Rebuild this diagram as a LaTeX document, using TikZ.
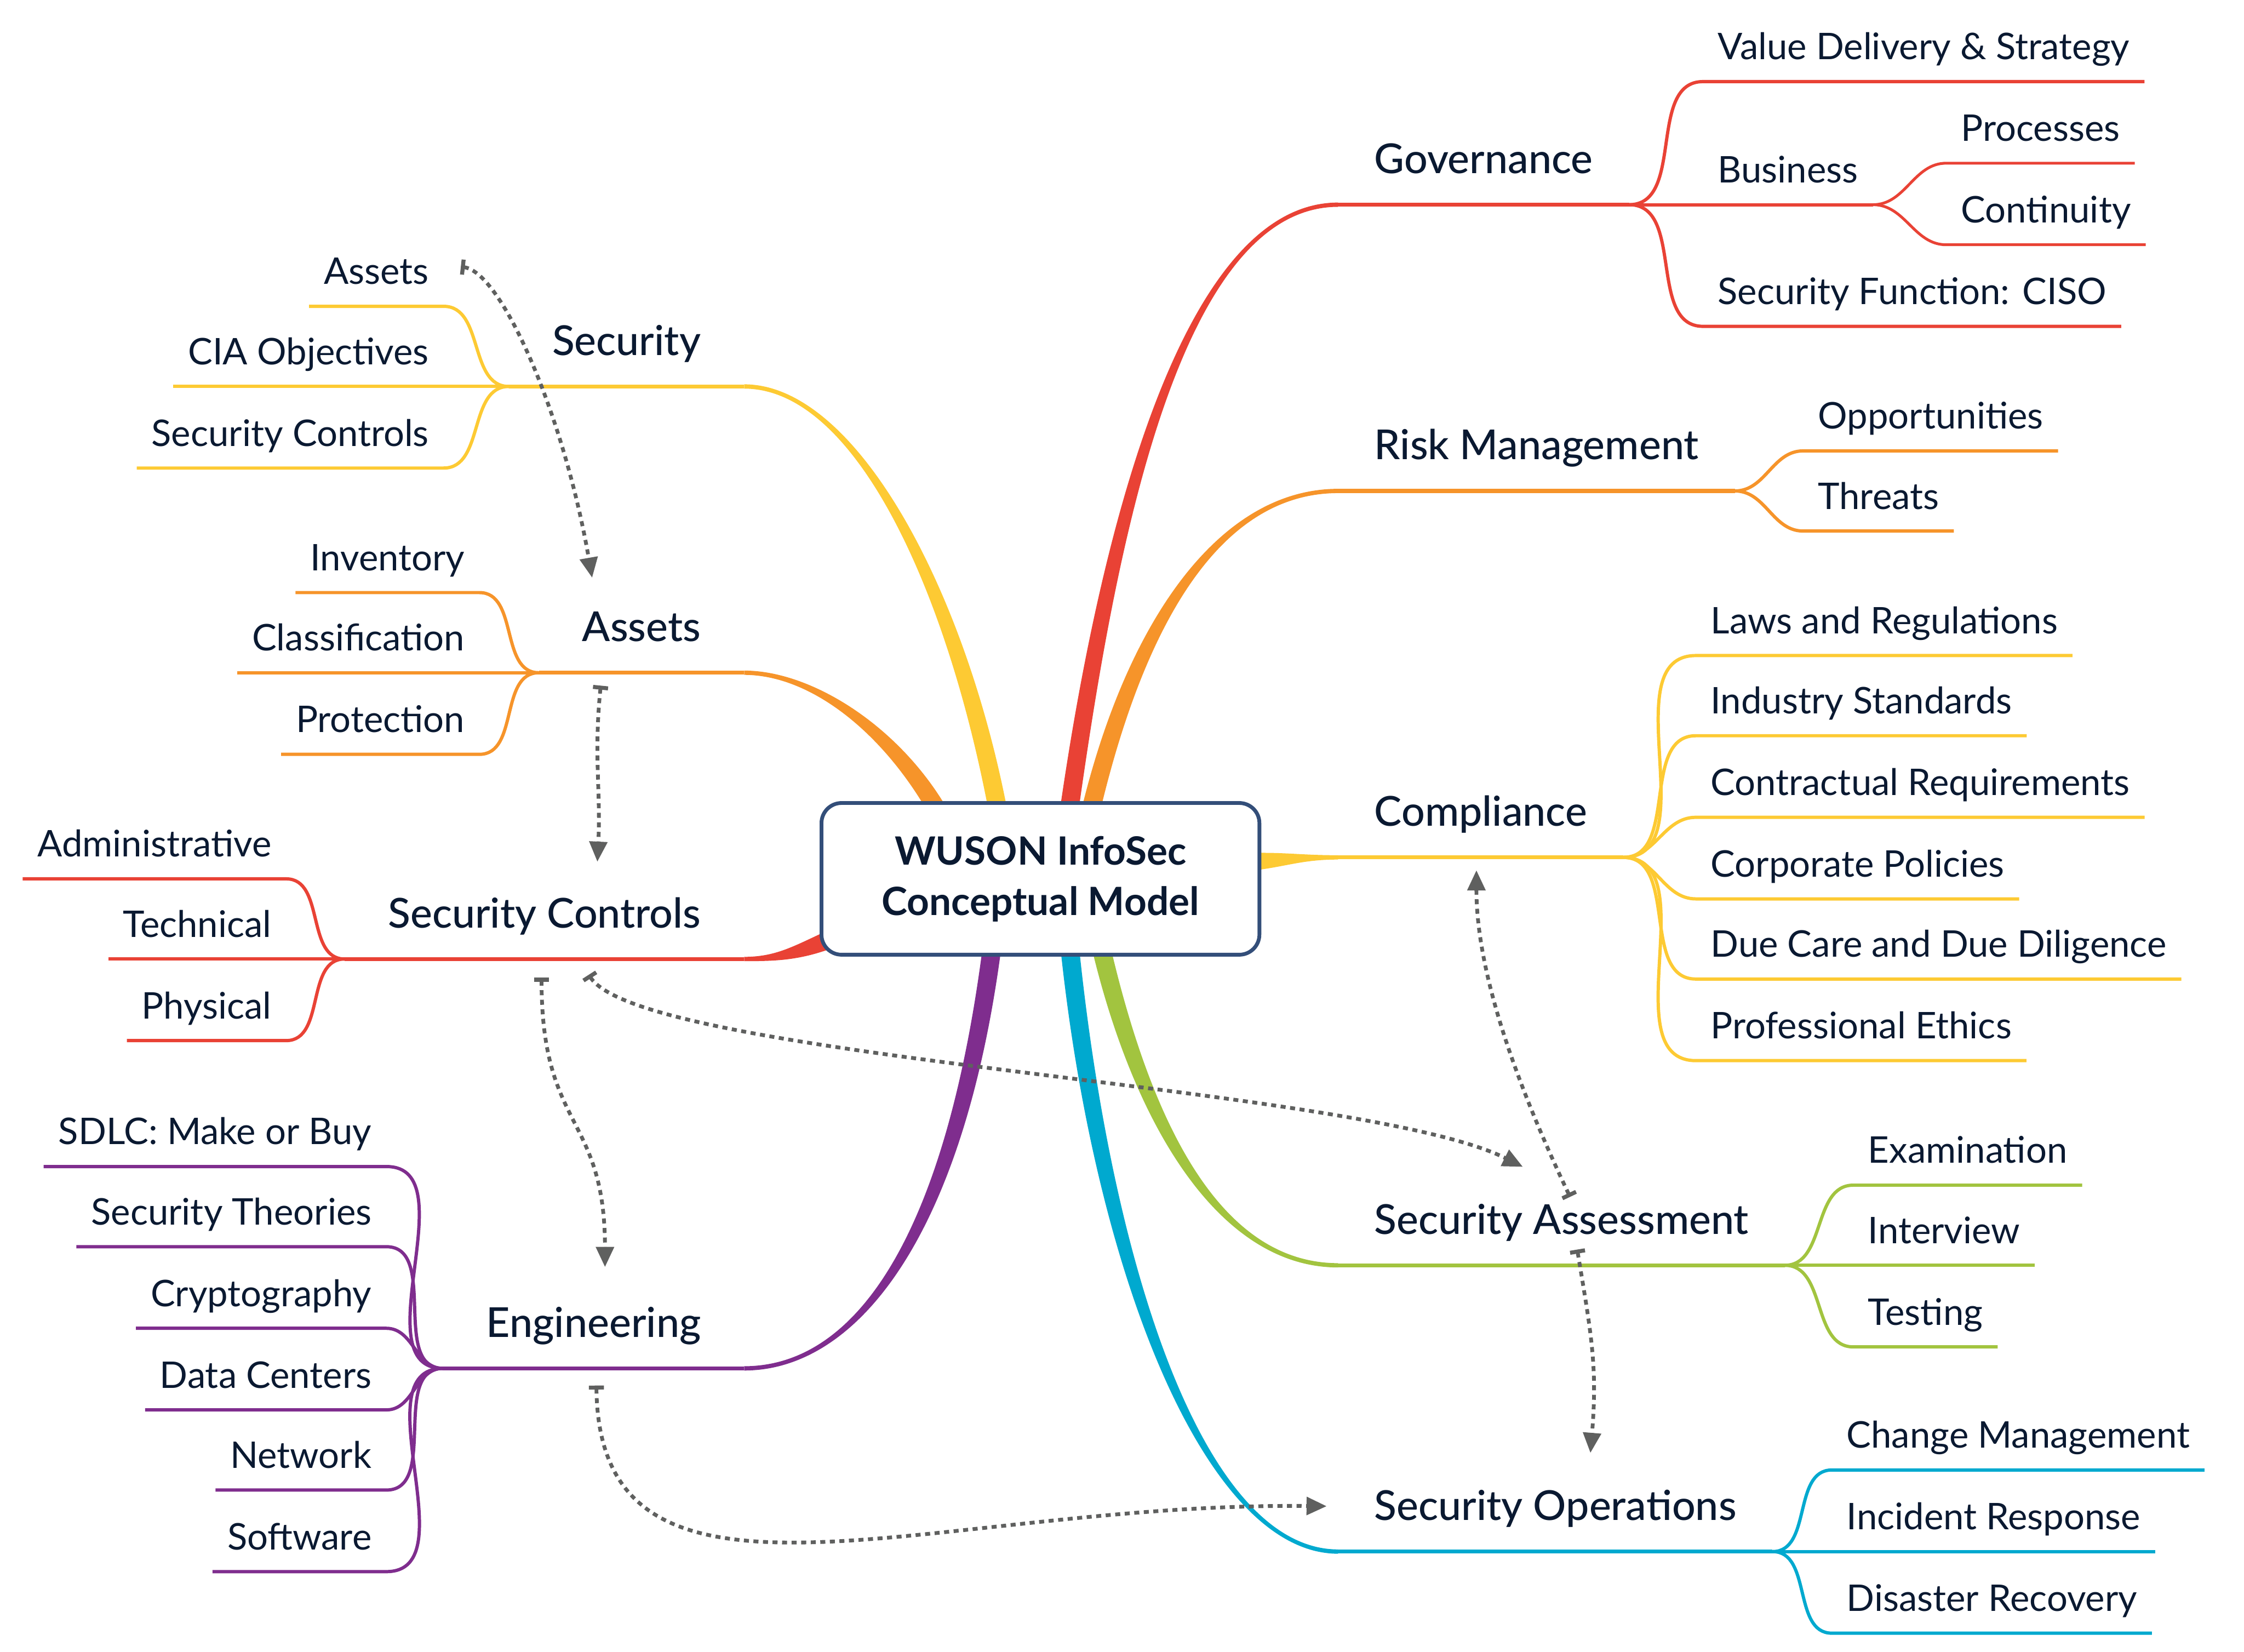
\documentclass[tikz,border=0pt]{standalone}
\usepackage{fontspec}
\setmainfont{Lato}
\newfontfamily\medfont{Lato Medium}
\usetikzlibrary{arrows.meta,calc,backgrounds}
\definecolor{redc}{RGB}{233,66,53}
\definecolor{orangec}{RGB}{246,148,42}
\definecolor{yellowc}{RGB}{253,202,51}
\definecolor{greenc}{RGB}{162,196,63}
\definecolor{bluec}{RGB}{0,169,207}
\definecolor{purplec}{RGB}{127,45,142}
\definecolor{hubc}{RGB}{51,78,121}
\definecolor{txtc}{RGB}{10,25,49}
\definecolor{linkc}{RGB}{95,96,95}

% tapered main branch: colour, start, control 1, control 2, end
\newcommand\trunk[5]{%
  \fill[#1] ($#2!1.3mm!90:#3$) .. controls ($#3!1.3mm!-90:#2$) and ($#4!.3mm!90:#5$) .. ($#5!.3mm!-90:#4$)
    -- ($#5!.3mm!90:#4$) .. controls ($#4!.3mm!-90:#5$) and ($#3!1.3mm!90:#2$) .. ($#2!1.3mm!-90:#3$) -- cycle;}

\begin{document}
\begin{tikzpicture}[
  hub/.style={draw=hubc,line width=1.5pt,rounded corners=8pt,fill=white,minimum width=6.12cm,
              minimum height=2.12cm,align=center,text=txtc,font=\fontsize{15.5}{20}\selectfont\bfseries},
  topic/.style={text=txtc,font=\medfont\fontsize{16.4}{19}\selectfont,inner xsep=0.5cm,inner ysep=0pt,text depth=0.43cm},
  topicl/.style={topic,inner xsep=0.6cm,anchor=south east},
  topicr/.style={topic,anchor=south west},
  leaf/.style={text=txtc,font=\fontsize{14.6}{17}\selectfont,inner xsep=0.2cm,inner ysep=0pt,text depth=0.3cm},
  leafl/.style={leaf,anchor=south east},
  leafr/.style={leaf,anchor=south west},
  stem/.style={line width=1.6pt},
  twig/.style={line width=1.3pt},
  xref/.style={draw=linkc,line width=1.5pt,dash pattern=on 2pt off 1.8pt,
               {Bar[width=6pt,line width=1.6pt]}-{Triangle[length=8pt,width=7pt]}}]
\useasboundingbox (0,0) rectangle (31.36,-23.08);

\node[hub] (hub) at (14.54,-12.28) {WUSON InfoSec\\Conceptual Model};

%============================== right side ==============================
\node[topicr] (gov) at (18.70,-2.86) {Governance};
\node[leafr] (g1) at (23.80,-1.14) {Value Delivery \& Strategy};
\node[leafr] (g2) at (23.80,-2.86) {Business};
\node[leafr] (g3) at (23.80,-4.56) {Security Function: CISO};
\node[leafr] (g21) at (27.20,-2.28) {Processes};
\node[leafr] (g22) at (27.20,-3.42) {Continuity};

\node[topicr] (risk) at (18.70,-6.86) {Risk Management};
\node[leafr] (r1) at (25.20,-6.30) {Opportunities};
\node[leafr] (r2) at (25.20,-7.42) {Threats};

\node[topicr] (comp) at (18.70,-11.98) {Compliance};
\node[leafr] (c1) at (23.70,-9.16) {Laws and Regulations};
\node[leafr] (c2) at (23.70,-10.28) {Industry Standards};
\node[leafr] (c3) at (23.70,-11.42) {Contractual Requirements};
\node[leafr] (c4) at (23.70,-12.56) {Corporate Policies};
\node[leafr] (c5) at (23.70,-13.68) {Due Care and Due Diligence};
\node[leafr] (c6) at (23.70,-14.82) {Professional Ethics};

\node[topicr] (assess) at (18.70,-17.68) {Security Assessment};
\node[leafr] (a1) at (25.90,-16.56) {Examination};
\node[leafr] (a2) at (25.90,-17.68) {Interview};
\node[leafr] (a3) at (25.90,-18.82) {Testing};

\node[topicr] (ops) at (18.70,-21.68) {Security Operations};
\node[leafr] (o1) at (25.60,-20.54) {Change Management};
\node[leafr] (o2) at (25.60,-21.68) {Incident Response};
\node[leafr] (o3) at (25.60,-22.82) {Disaster Recovery};

%============================== left side ==============================
\node[topicl] (sec) at (10.40,-5.40) {Security};
\node[leafl] (s1) at (6.20,-4.28) {Assets};
\node[leafl] (s2) at (6.20,-5.40) {CIA Objectives};
\node[leafl] (s3) at (6.20,-6.54) {Security Controls};

\node[topicl] (ast) at (10.40,-9.40) {Assets};
\node[leafl] (t1) at (6.70,-8.28) {Inventory};
\node[leafl] (t2) at (6.70,-9.40) {Classification};
\node[leafl] (t3) at (6.70,-10.54) {Protection};

\node[topicl] (ctrl) at (10.40,-13.40) {Security Controls};
\node[leafl] (k1) at (4.00,-12.28) {Administrative};
\node[leafl] (k2) at (4.00,-13.40) {Technical};
\node[leafl] (k3) at (4.00,-14.54) {Physical};

\node[topicl] (eng) at (10.40,-19.12) {Engineering};
\node[leafl] (e1) at (5.40,-16.30) {SDLC: Make or Buy};
\node[leafl] (e2) at (5.40,-17.42) {Security Theories};
\node[leafl] (e3) at (5.40,-18.56) {Cryptography};
\node[leafl] (e4) at (5.40,-19.70) {Data Centers};
\node[leafl] (e5) at (5.40,-20.82) {Network};
\node[leafl] (e6) at (5.40,-21.96) {Software};

%============================== branches ==============================
\begin{scope}[on background layer]
\trunk{redc}{(14.90,-11.62)}{(15.40,-8.00)}{(16.40,-2.86)}{(gov.south west)}
\trunk{orangec}{(15.18,-11.60)}{(15.80,-8.80)}{(17.00,-6.86)}{(risk.south west)}
\trunk{yellowc}{(17.20,-12.06)}{(17.90,-12.02)}{(18.10,-11.98)}{(comp.south west)}
\trunk{greenc}{(15.32,-12.94)}{(15.90,-15.60)}{(17.00,-17.68)}{(assess.south west)}
\trunk{bluec}{(14.92,-12.94)}{(15.36,-17.60)}{(16.80,-21.68)}{(ops.south west)}
\trunk{yellowc}{(14.00,-11.62)}{(13.44,-8.40)}{(12.00,-5.40)}{(sec.south east)}
\trunk{orangec}{(13.24,-11.58)}{(12.60,-10.30)}{(11.40,-9.40)}{(ast.south east)}
\trunk{redc}{(11.80,-13.04)}{(11.20,-13.30)}{(10.90,-13.40)}{(ctrl.south east)}
\trunk{purplec}{(13.90,-12.94)}{(13.40,-17.20)}{(12.00,-19.12)}{(eng.south east)}

\draw[stem,redc] (gov.south west) -- (gov.south east);
\foreach \l in {g1,g2,g3}{\draw[twig,redc] (gov.south east) to[out=0,in=180] (\l.south west) -- (\l.south east);}
\foreach \l in {g21,g22}{\draw[twig,redc,line width=1.1pt] (g2.south east) to[out=0,in=180] (\l.south west) -- (\l.south east);}

\draw[stem,orangec] (risk.south west) -- (risk.south east);
\foreach \l in {r1,r2}{\draw[twig,orangec] (risk.south east) to[out=0,in=180] (\l.south west) -- (\l.south east);}

\draw[stem,yellowc] (comp.south west) -- (comp.south east);
\foreach \l in {c1,c2,c3,c4,c5,c6}{\draw[twig,yellowc] (comp.south east) to[out=0,in=180] (\l.south west) -- (\l.south east);}

\draw[stem,greenc] (assess.south west) -- (assess.south east);
\foreach \l in {a1,a2,a3}{\draw[twig,greenc] (assess.south east) to[out=0,in=180] (\l.south west) -- (\l.south east);}

\draw[stem,bluec] (ops.south west) -- (ops.south east);
\foreach \l in {o1,o2,o3}{\draw[twig,bluec] (ops.south east) to[out=0,in=180] (\l.south west) -- (\l.south east);}

\draw[stem,yellowc] (sec.south east) -- (sec.south west);
\foreach \l in {s1,s2,s3}{\draw[twig,yellowc] (sec.south west) to[out=180,in=0] (\l.south east) -- (\l.south west);}

\draw[stem,orangec] (ast.south east) -- (ast.south west);
\foreach \l in {t1,t2,t3}{\draw[twig,orangec] (ast.south west) to[out=180,in=0] (\l.south east) -- (\l.south west);}

\draw[stem,redc] (ctrl.south east) -- (ctrl.south west);
\foreach \l in {k1,k2,k3}{\draw[twig,redc] (ctrl.south west) to[out=180,in=0] (\l.south east) -- (\l.south west);}

\draw[stem,purplec] (eng.south east) -- (eng.south west);
\foreach \l in {e1,e2,e3,e4,e5,e6}{\draw[twig,purplec] (eng.south west) to[out=180,in=0] (\l.south east) -- (\l.south west);}
\end{scope}

%============================== cross references ==============================
\draw[xref] ([shift={(0.24,0.21)}]s1.east) .. controls +(0.56,-0.06) and +(-0.40,2.30) .. ([shift={(-0.69,0.47)}]ast.north);
\draw[xref] ([shift={(-0.57,-0.18)}]ast.south) .. controls +(-0.10,-1.00) and +(0.05,1.00) .. ([shift={(0.74,0.49)}]ctrl.north);
\draw[xref] ([shift={(-0.04,-0.26)}]ctrl.south) .. controls +(0,-2.14) and +(0,2.14) .. ([shift={(0.16,0.55)}]eng.north);
\draw[xref] ([shift={(0.62,-0.22)}]ctrl.south) .. controls +(0.76,-1.18) and +(-2.28,1.14) .. ([shift={(-0.54,0.51)}]assess.north);
\draw[xref] ([shift={(0.12,0.09)}]assess.north) .. controls +(-0.74,1.56) and +(0,-1.44) .. ([shift={(-0.06,-0.18)}]comp.south);
\draw[xref] ([shift={(0.22,0.22)}]assess.south) .. controls +(0.20,-1.20) and +(0.10,1.20) .. ([shift={(0.49,0.51)}]ops.north);
\draw[xref] ([shift={(0.04,-0.24)}]eng.south) .. controls +(0.04,-3.64) and +(-5.54,0.06) .. ([shift={(-0.16,0.20)}]ops.west);
\end{tikzpicture}
\end{document}
